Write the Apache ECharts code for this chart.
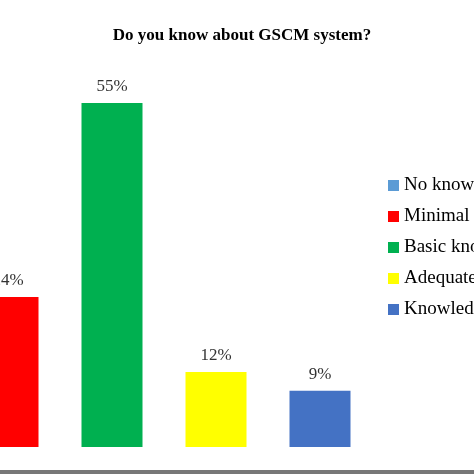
<!DOCTYPE html><html><head><meta charset="utf-8"><script src="https://cdn.jsdelivr.net/npm/echarts@6/dist/echarts.min.js"></script></head><body style="margin:0;overflow:hidden;width:474px;height:474px;position:relative"><div id="c" style="position:absolute;left:-148px;top:0;width:622px;height:474px"></div><script>
const categories=["No knowledge","Minimal knowledge","Basic knowledge","Adequate knowledge","Knowledgeable"];
const values=[0,24,55,12,9];
const colors=["#5B9BD5","#FF0000","#00B050","#FFFF00","#4472C4"];
const chart=echarts.init(document.getElementById('c'));
chart.setOption({
 animation:false,
 title:{text:"Do you know about GSCM system?",left:385,textAlign:'center',top:22,textStyle:{fontFamily:'Liberation Serif',fontSize:17,fontWeight:'bold',color:'#000'}},
 legend:{orient:'vertical',left:531,top:171,itemWidth:11,itemHeight:11,itemGap:12,icon:'rect',textStyle:{fontFamily:'Liberation Serif',fontSize:19,color:'#000'},data:categories},
 grid:{left:0,width:520,top:103,bottom:27},
 xAxis:{type:'category',data:categories,axisLabel:{show:false},axisTick:{show:false},axisLine:{show:false}},
 yAxis:{type:'value',min:0,max:55,show:false,splitLine:{show:false}},
 series:categories.map((c,i)=>({name:c,type:'bar',barWidth:61,barGap:'-100%',itemStyle:{color:colors[i]},
  label:{show:true,position:'top',distance:8,formatter:'{c}%',fontFamily:'Liberation Serif',fontSize:17,color:'#333'},
  data:values.map((v,j)=>j===i?v:'-')})),
 graphic:[{type:'rect',shape:{x:148,y:470,width:474,height:4},style:{fill:'#777'}}]
});
</script></body></html>
